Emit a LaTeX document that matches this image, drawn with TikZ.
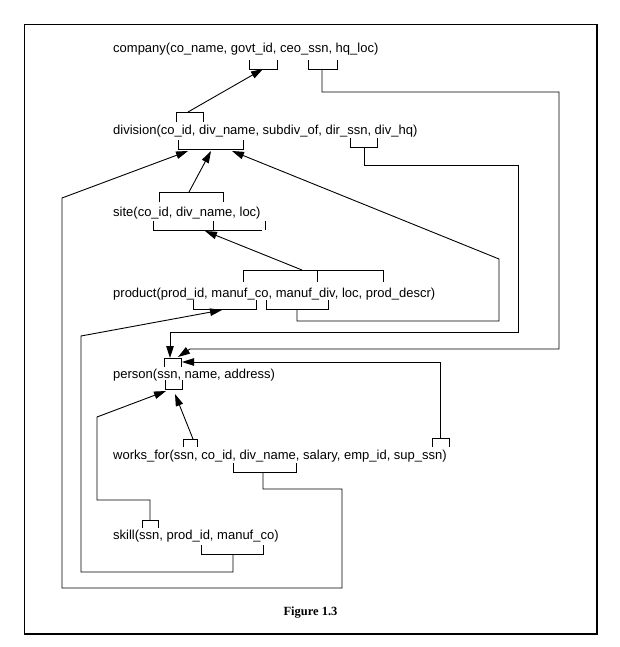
\documentclass[tikz,border=0pt]{standalone}
\usepackage{fontspec}
\setmainfont{Liberation Sans}
\newfontfamily\figfont{Liberation Serif}
\usetikzlibrary{arrows.meta}
\begin{document}
\begin{tikzpicture}[x=1pt,y=-1pt,
  rel/.style={font=\fontsize{13}{15}\selectfont, anchor=base west, inner sep=0pt},
  brk/.style={line width=0.9pt},
  conn/.style={line width=0.9pt},
  arr/.style={conn, -{Triangle[length=12pt,width=7.5pt]}}]
\useasboundingbox (0,0) rectangle (619,647);
\draw[line width=1.5pt] (24.5,24.5) rectangle (597,634);

% relations
\node[rel] (company) at (113,53) {company(co\_name, govt\_id, ceo\_ssn, hq\_loc)};
\node[rel] (division) at (113,135) {division(co\_id, div\_name, subdiv\_of, dir\_ssn, div\_hq)};
\node[rel] (site) at (113,216) {site(co\_id, div\_name, loc)};
\node[rel] (product) at (113,297) {product(prod\_id, manuf\_co, manuf\_div, loc, prod\_descr)};
\node[rel] (person) at (113,378) {person(ssn, name, address)};
\node[rel] (worksfor) at (113,459) {works\_for(ssn, co\_id, div\_name, salary, emp\_id, sup\_ssn)};
\node[rel] (skill) at (113,539) {skill(ssn, prod\_id, manuf\_co)};
\node[font=\figfont\bfseries\fontsize{12.5}{14}\selectfont, inner sep=0pt] (caption) at (310.5,613) {Figure 1.3};

% brackets
\draw[brk] (249,60) -- (249,69) -- (277,69) -- (277,60);
\draw[brk] (308,60) -- (308,69) -- (337,69) -- (337,60);
\draw[brk] (176,122) -- (176,112) -- (203,112) -- (203,122);
\draw[brk] (178,140) -- (178,149) -- (243,149) -- (243,140);
\draw[brk] (350,138) -- (350,147) -- (377,147) -- (377,138);
\draw[brk] (159,202) -- (159,192) -- (223,192) -- (223,202);
\draw[brk] (153,221) -- (153,230) -- (262,230);
\draw[brk] (213,221) -- (213,230);
\draw[brk] (265,221) -- (265,230);
\draw[brk] (243,282) -- (243,270) -- (383,270) -- (383,282);
\draw[brk] (317,270) -- (317,282);
\draw[brk] (193,300) -- (193,309) -- (256,309) -- (256,300);
\draw[brk] (266,300) -- (266,309) -- (328,309) -- (328,300);
\draw[brk] (164,367) -- (164,358) -- (181,358) -- (181,367);
\draw[brk] (165,380) -- (165,389) -- (182,389) -- (182,380);
\draw[brk] (183,447) -- (183,439) -- (197,439) -- (197,447);
\draw[brk] (432,447) -- (432,438) -- (449,438) -- (449,447);
\draw[brk] (233,463) -- (233,472) -- (296,472) -- (296,463);
\draw[brk] (142,528) -- (142,520) -- (158,520) -- (158,528);
\draw[brk] (201,545) -- (201,554) -- (263,554) -- (263,545);

% attachment points
\coordinate (govB) at (263,69);
\coordinate (ceoB) at (322,69);
\coordinate (ceoR) at (559,92);
\coordinate (ceoE) at (190,349);
\coordinate (divT) at (188,112);
\coordinate (dirB) at (364,147);
\coordinate (dirR) at (518,165);
\coordinate (dirE) at (170,332);
\coordinate (divB1) at (188,151);
\coordinate (divB2) at (211,151);
\coordinate (divB3) at (232,151);
\coordinate (siteT) at (189,192);
\coordinate (siteB) at (205,231);
\coordinate (prT) at (302,270);
\coordinate (prB1) at (222,310);
\coordinate (prB2) at (297,309);
\coordinate (prR) at (499,321);
\coordinate (prU) at (499,259);
\coordinate (perT) at (170,358);
\coordinate (perTR) at (178,357);
\coordinate (perR) at (182,362);
\coordinate (perB1) at (166,391);
\coordinate (perB2) at (175,394);
\coordinate (wfT) at (193,439);
\coordinate (supT) at (440,438);
\coordinate (wfB) at (263,472);
\coordinate (wfR) at (342,489);
\coordinate (wfL) at (62,588);
\coordinate (wfU) at (62,198);
\coordinate (skT) at (150,520);
\coordinate (skL) at (97,500);
\coordinate (skU) at (97,417);
\coordinate (skB) at (233,554);
\coordinate (skBL) at (81,572);
\coordinate (skBU) at (81,336);

% connectors
\draw[arr] (divT) -- (govB);
\draw[arr] (ceoB) |- (ceoR) |- (ceoE) -- (perTR);
\draw[arr] (dirB) |- (dirR) |- (dirE) -- (perT);
\draw[arr] (siteT) -- (divB2);
\draw[arr] (prT) -- (siteB);
\draw[arr] (prB2) |- (prR) -- (prU) -- (divB3);
\draw[arr] (wfB) |- (wfR) |- (wfL) -- (wfU) -- (divB1);
\draw[arr] (skB) |- (skBL) -- (skBU) -- (prB1);
\draw[arr] (supT) |- (perR);
\draw[arr] (wfT) -- (perB2);
\draw[arr] (skT) |- (skL) -- (skU) -- (perB1);
\end{tikzpicture}
\end{document}
